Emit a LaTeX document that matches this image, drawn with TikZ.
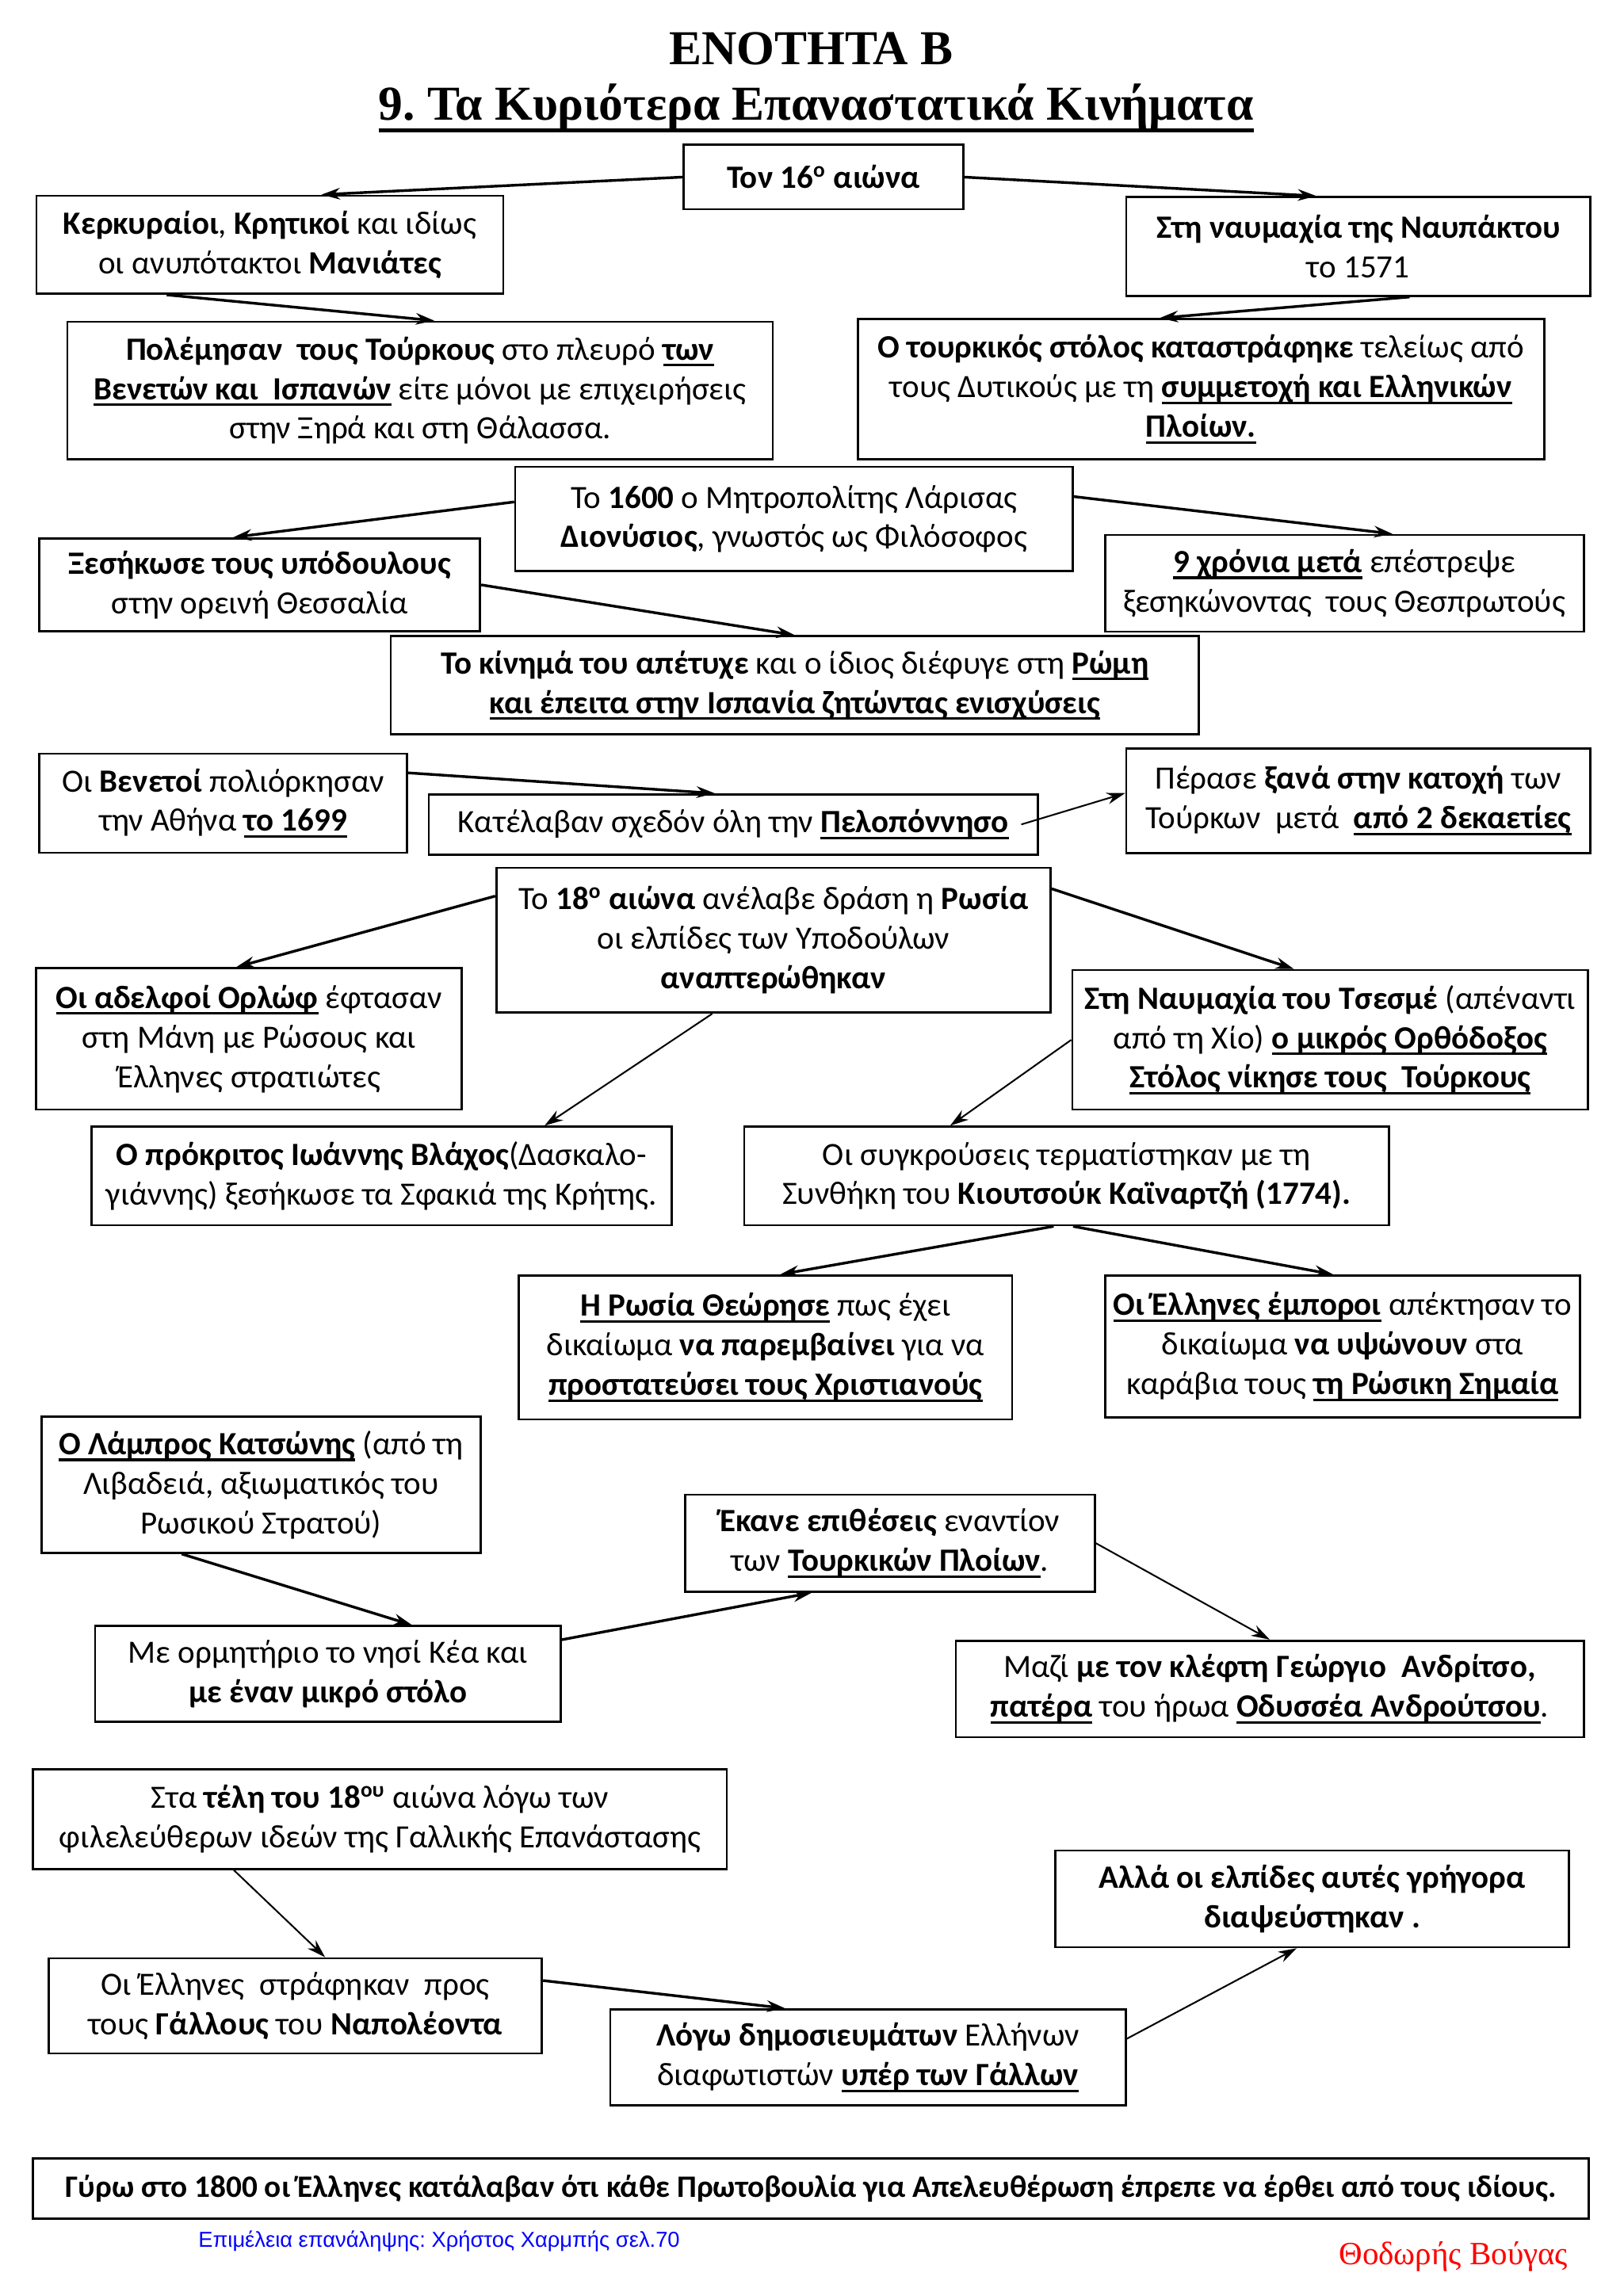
\documentclass[tikz,border=0pt]{standalone}
\usepackage{fontspec}
\setmainfont{Carlito}
\newfontfamily\ttlfont{Liberation Serif}
\newfontfamily\arialfont{Liberation Sans}
\usetikzlibrary{arrows.meta,calc}
\frenchspacing

% underline at a fixed depth, as the original word processor draws it
\newcommand\uln[1]{\setbox0\hbox{#1}\rlap{\rule[-2.4pt]{\wd0}{0.9pt}}\box0}
\newcommand\ulttl[1]{\setbox0\hbox{#1}\rlap{\rule[-4.6pt]{\wd0}{1.6pt}}\box0}

\tikzset{
  box/.style 2 args={draw,line width=0.8pt,align=center,inner sep=0pt,
    minimum width=#1*0.019cm,minimum height=#2*0.019cm,
    font=\fontsize{12}{14.6}\selectfont},
  arr/.style={->,line width=1pt},
  thinarr/.style={->,line width=0.6pt},
  ttl/.style={font=\ttlfont\bfseries\fontsize{18}{20}\selectfont,inner sep=0pt}
}

\begin{document}
\begin{tikzpicture}[x=0.019cm,y=-0.019cm,>={Stealth[length=2.4mm,width=1.5mm]}]
\useasboundingbox (0,0) rectangle (1109,1563.3);

% titles
\node[ttl] (head) at (554,33.4) {ΕΝΟΤΗΤΑ Β};
\node[ttl] (topic) at (557.5,74) {\ulttl{9. Τα Κυριότερα Επαναστατικά Κινήματα}};

% 16th century
\node[box={191}{44}] (c16) at (562.5,121) {\textbf{Τον 16\textsuperscript{ο} αιώνα}};
\node[box={319}{67}] (kerk) at (184.4,167.2) {\textbf{Κερκυραίοι}, \textbf{Κρητικοί} και ιδίως\\ οι ανυπότακτοι \textbf{Μανιάτες}};
\node[box={317}{67.5}] (nafp) at (928,168.4) {\textbf{Στη ναυμαχία της Ναυπάκτου}\\ το 1571};
\node[box={482}{94}] (polem) at (287,266.8) {\textbf{Πολέμησαν\ \ τους Τούρκους} στο πλευρό \textbf{\uln{των}}\\ \textbf{\uln{Βενετών και\ \ Ισπανών}} είτε μόνοι με επιχειρήσεις\\ στην Ξηρά και στη Θάλασσα.};
\node[box={469}{95.7}] (stolos) at (820.5,265.9) {\textbf{Ο τουρκικός στόλος καταστράφηκε} τελείως από\\ τους Δυτικούς με τη \textbf{\uln{συμμετοχή και Ελληνικών}}\\ \textbf{\uln{Πλοίων.}}};

% Dionysios
\node[box={381}{71.4}] (dion) at (542.5,354.6) {Το \textbf{1600} ο Μητροπολίτης Λάρισας\\ \textbf{Διονύσιος}, γνωστός ως Φιλόσοφος};
\node[box={301}{63.5}] (thess) at (177.5,399.6) {\textbf{Ξεσήκωσε τους υπόδουλους}\\ στην ορεινή Θεσσαλία};
\node[box={327}{66}] (thesp) at (918.5,398.5) {\textbf{\uln{9 χρόνια μετά}} επέστρεψε\\ ξεσηκώνοντας\ \ τους Θεσπρωτούς};
\node[box={552}{67}] (kinima) at (543,468.2) {\textbf{Το κίνημά του απέτυχε} και ο ίδιος διέφυγε στη \textbf{\uln{Ρώμη}}\\ \textbf{\uln{και έπειτα στην Ισπανία ζητώντας ενισχύσεις}}};

% Venetians
\node[box={251}{67.7}] (venet) at (152.5,548.8) {Οι \textbf{Βενετοί} πολιόρκησαν\\ την Αθήνα \textbf{\uln{το 1699}}};
\node[box={416}{41}] (pelop) at (501,563.3) {Κατέλαβαν σχεδόν όλη την \textbf{\uln{Πελοπόννησο}}};
\node[box={317}{71.5}] (ksana) at (928,547) {Πέρασε \textbf{ξανά στην κατοχή} των\\ Τούρκων\ \ μετά\ \ \textbf{\uln{από 2 δεκαετίες}}};

% 18th century
\node[box={378.7}{99}] (rosia) at (528.4,642.4) {Το \textbf{18\textsuperscript{ο} αιώνα} ανέλαβε δράση η \textbf{Ρωσία}\\ οι ελπίδες των Υποδούλων\\ \textbf{αναπτερώθηκαν}};
\node[box={290.8}{96.6}] (orlof) at (170.2,709.8) {\textbf{\uln{Οι αδελφοί Ορλώφ}} έφτασαν\\ στη Μάνη με Ρώσους και\\ Έλληνες στρατιώτες};
\node[box={352.4}{95.3}] (tsesme) at (908.8,710.5) {\textbf{Στη Ναυμαχία του Τσεσμέ} (απέναντι\\ από τη Χίο) \textbf{\uln{ο μικρός Ορθόδοξος}}\\ \textbf{\uln{Στόλος νίκησε τους\ \ Τούρκους}}};
\node[box={396.5}{67.3}] (vlaxos) at (260.6,803.5) {\textbf{Ο πρόκριτος Ιωάννης Βλάχος}(Δασκαλο-\\ γιάννης) ξεσήκωσε τα Σφακιά της Κρήτης.};
\node[box={440.5}{67.3}] (synth) at (728.7,803.5) {Οι συγκρούσεις τερματίστηκαν με τη\\ Συνθήκη του \textbf{Κιουτσούκ Καϊναρτζή (1774).}};
\node[box={337}{98.3}] (theor) at (523,920.6) {\textbf{\uln{Η Ρωσία Θεώρησε}} πως έχει\\ δικαίωμα \textbf{να παρεμβαίνει} για να\\ \textbf{\uln{προστατεύσει τους Χριστιανούς}}};
\node[box={324}{97}] (empor) at (917.3,920) {\textbf{\uln{Οι Έλληνες έμποροι}} απέκτησαν το\\ δικαίωμα \textbf{να υψώνουν} στα\\ καράβια τους \textbf{\uln{τη Ρώσικη Σημαία}}};

% Katsonis
\node[box={300}{93}] (katson) at (178.4,1014.5) {\textbf{\uln{Ο Λάμπρος Κατσώνης}} (από τη\\ Λιβαδειά, αξιωματικός του\\ Ρωσικού Στρατού)};
\node[box={280}{66.2}] (epith) at (608,1054.4) {\textbf{Έκανε επιθέσεις} εναντίον\\ των \textbf{\uln{Τουρκικών Πλοίων}}.};
\node[box={318}{65.5}] (kea) at (224,1143.8) {Με ορμητήριο το νησί Κέα και\\ \textbf{με έναν μικρό στόλο}};
\node[box={429}{66}] (andr) at (867.5,1154) {Μαζί \textbf{με τον κλέφτη Γεώργιο\ \ Ανδρίτσο,}\\ \textbf{\uln{πατέρα}} του ήρωα \textbf{\uln{Οδυσσέα Ανδρούτσου}}.};

% French revolution
\node[box={474}{68}] (teli) at (259.6,1243) {Στα \textbf{τέλη του 18\textsuperscript{ου}} αιώνα λόγω των\\ φιλελεύθερων ιδεών της Γαλλικής Επανάστασης};
\node[box={351}{66}] (diaps) at (896.5,1297.4) {\textbf{Αλλά οι ελπίδες αυτές γρήγορα}\\ \textbf{διαψεύστηκαν .}};
\node[box={337}{65}] (gallous) at (201.8,1370.5) {Οι Έλληνες\ \ στράφηκαν\ \ προς\\ τους \textbf{Γάλλους} του \textbf{Ναπολέοντα}};
\node[box={352}{65.7}] (logo) at (593,1405.8) {\textbf{Λόγω δημοσιευμάτων} Ελλήνων\\ διαφωτιστών \textbf{\uln{υπέρ των Γάλλων}}};

\node[box={1063}{41},font=\fontsize{11.5}{14}\selectfont] (gyro) at (554,1495.4) {\textbf{Γύρω στο 1800 οι Έλληνες κατάλαβαν ότι κάθε Πρωτοβουλία για Απελευθέρωση έπρεπε να έρθει από τους ιδίους.}};

\node[inner sep=0pt,font=\arialfont\fontsize{8}{10}\selectfont,text=blue] (edit) at (300,1531.6) {Επιμέλεια επανάληψης: Χρήστος Χαρμπής σελ.70};
\node[inner sep=0pt,font=\ttlfont\fontsize{12}{14}\selectfont,text=red] (auth) at (993,1542) {Θοδωρής Βούγας};

% connectors
\path (c16.west) edge [arr] ($(kerk.north west)!.61!(kerk.north east)$);
\path (c16.east) edge [arr] ($(nafp.north west)!.41!(nafp.north east)$);
\path ($(kerk.south west)!.28!(kerk.south east)$) edge [arr] ($(polem.north west)!.52!(polem.north east)$);
\path ($(nafp.south west)!.61!(nafp.south east)$) edge [arr] ($(stolos.north west)!.44!(stolos.north east)$);
\path ($(dion.north west)!.34!(dion.south west)$) edge [arr] ($(thess.north west)!.44!(thess.north east)$);
\path ($(dion.north east)!.29!(dion.south east)$) edge [arr] ($(thesp.north west)!.6!(thesp.north east)$);
\path (thess.east) edge [arr] (kinima.north);
\path ($(venet.north east)!.2!(venet.south east)$) edge [arr] ($(pelop.north west)!.47!(pelop.north east)$);
\path ($(pelop.east)+(-12,0)$) edge [thinarr] ($(ksana.north west)!.43!(ksana.south west)$);
\path ($(rosia.north west)!.2!(rosia.south west)$) edge [arr] ($(orlof.north west)!.47!(orlof.north east)$);
\path ($(rosia.north east)!.15!(rosia.south east)$) edge [arr] ($(tsesme.north west)!.43!(tsesme.north east)$);
\path ($(rosia.south west)!.39!(rosia.south east)$) edge [thinarr] ($(vlaxos.north west)!.78!(vlaxos.north east)$);
\path (tsesme.west) edge [thinarr] ($(synth.north west)!.32!(synth.north east)$);
\path ($(synth.south west)!.48!(synth.south east)$) edge [arr] ($(theor.north west)!.53!(theor.north east)$);
\path ($(synth.south west)!.51!(synth.south east)$) edge [arr] ($(empor.north west)!.48!(empor.north east)$);
\path ($(katson.south west)!.32!(katson.south east)$) edge [arr] ($(kea.north west)!.68!(kea.north east)$);
\path ($(kea.north east)!.15!(kea.south east)$) edge [arr] ($(epith.south west)!.31!(epith.south east)$);
\path (epith.east) edge [thinarr] (andr.north);
\path ($(teli.south west)!.29!(teli.south east)$) edge [thinarr] ($(gallous.north west)!.56!(gallous.north east)$);
\path ($(gallous.north east)!.24!(gallous.south east)$) edge [arr] ($(logo.north west)!.34!(logo.north east)$);
\path ($(logo.north east)!.31!(logo.south east)$) edge [thinarr] ($(diaps.south west)!.47!(diaps.south east)$);

\end{tikzpicture}
\end{document}
